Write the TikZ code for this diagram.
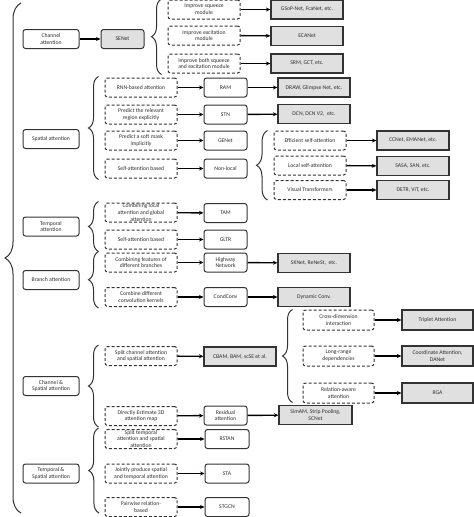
\documentclass[tikz,border=0pt]{standalone}
\usepackage{fontspec}
\setmainfont{Carlito}
\usepackage{tikz}
\usetikzlibrary{arrows.meta,calc,decorations.pathreplacing}

\definecolor{txtgray}{HTML}{2E2E2E}
\definecolor{boxgray}{HTML}{E0E0E0}
\definecolor{edgegray}{HTML}{333333}

\begin{document}
\begin{tikzpicture}[
  x=1pt, y=-1pt,
  font=\fontsize{5.7}{6.9}\selectfont, text=txtgray,
  cat/.style={draw=edgegray, line width=1pt, rounded corners=2.5pt, align=center,
    inner sep=0.5pt, minimum width=56pt, minimum height=19pt},
  sub/.style={draw=edgegray, dash pattern=on 3pt off 2pt, line width=1pt,
    rounded corners=2.5pt, align=center,
    inner sep=0.5pt, minimum width=72pt, minimum height=19pt},
  meth/.style={draw=edgegray, line width=1pt, rounded corners=2.5pt, align=center,
    inner sep=0.5pt, minimum width=43pt, minimum height=19pt},
  res/.style={draw=edgegray, fill=boxgray, line width=1.2pt, align=center,
    inner sep=0.5pt, minimum width=72pt, minimum height=19pt},
  arr/.style={-{Stealth[length=4.5pt,width=4pt]}, line width=1.4pt, black},
  brc/.style={draw=edgegray, line width=1pt, decorate,
    decoration={brace, amplitude=#1}},
  brc/.default=10pt
]
\useasboundingbox (0,0) rectangle (474,517);

\draw[brc=16pt] (21,513) -- (21,3);

\node[cat] (cha) at (51,39) {Channel\\attention};
\node[meth, fill=boxgray] (senet) at (122.5,39) {SENet};
\draw[arr] (cha) -- (senet);

\node[sub] (sq) at (204,9.5) {Improve squeeze\\module};
\node[sub] (ex) at (204,35.5) {Improve excitation\\module};
\node[sub] (bo) at (204,63.5) {Improve both squeeze\\and excitation module};
\draw[brc] ($(bo.south west)+(-6,1)$) -- ($(sq.north west)+(-6,-0.5)$);
\node[res] (gsop) at (307,9.5) {GSoP-Net, FcaNet, etc.};
\node[res] (eca) at (307,36) {ECANet};
\node[res] (srm) at (307,63.5) {SRM, GCT, etc.};
\draw[arr] (sq) -- (gsop);
\draw[arr] (ex) -- (eca);
\draw[arr] (bo) -- (srm);

\node[cat] (spa) at (51,139) {Spatial attention};
\node[sub] (rnn) at (141,87.5) {RNN-based attention};
\node[sub] (prr) at (141,114.5) {Predict the relevant\\region explicitly};
\node[sub] (psm) at (141,140.5) {Predict a soft mask\\implicitly};
\node[sub] (sab) at (141,168.5) {Self-attention based};
\draw[brc] ($(sab.south west)+(-6,1)$) -- ($(rnn.north west)+(-6,-1)$);
\node[meth] (ram) at (225.5,87.5) {RAM};
\node[meth] (stn) at (225.5,114.5) {STN};
\node[meth] (genet) at (225.5,140.5) {GENet};
\node[meth] (nonl) at (225.5,168.5) {Non-local};
\draw[arr] (rnn) -- (ram);
\draw[arr] (prr) -- (stn);
\draw[arr] (psm) -- (genet);
\draw[arr] (sab) -- (nonl);
\node[res] (drw) at (314,87.5) {DRAW, Glimpse Net, etc.};
\node[res] (dcn) at (314,114) {DCN, DCN V2,~ etc.};
\draw[arr] (ram) -- (drw);
\draw[arr] (stn) -- (dcn);

\node[sub] (eff) at (310,140.5) {Efficient self-attention};
\node[sub] (loc) at (310,165.5) {Local self-attention};
\node[sub] (vis) at (310,190) {Visual Transformers};
\draw[brc=11pt] ($(vis.south west)+(-6,0)$) -- ($(eff.north west)+(-6,0)$);
\node[res] (ccn) at (413,140.5) {CCNet, EMANet, etc.};
\node[res] (sasa) at (413,166) {SASA, SAN, etc.};
\node[res] (detr) at (413,190) {DETR, ViT, etc.};
\draw[arr] (eff) -- (ccn);
\draw[arr] (loc) -- (sasa);
\draw[arr] (vis) -- (detr);

\node[cat] (tem) at (51,226.5) {Temporal\\attention};
\node[sub] (clg) at (141,212.5) {Combining local\\attention and global\\attention};
\node[sub] (tsab) at (141,239.5) {Self-attention based};
\draw[brc] ($(tsab.south west)+(-6,2)$) -- ($(clg.north west)+(-6,-1)$);
\node[meth] (tam) at (225.5,213) {TAM};
\node[meth] (gltr) at (225.5,239.5) {GLTR};
\draw[arr] (clg) -- (tam);
\draw[arr] (tsab) -- (gltr);

\node[cat] (bra) at (51,280) {Branch attention};
\node[sub] (cfb) at (141,262.5) {Combining features of\\different branches};
\node[sub] (cdk) at (141,297) {Combine different\\convolution kernels};
\draw[brc] ($(cdk.south west)+(-6,1)$) -- ($(cfb.north west)+(-6,-1)$);
\node[meth] (hwy) at (225.5,262.5) {Highway\\Network};
\node[meth] (cond) at (225.5,297) {CondConv};
\draw[arr] (cfb) -- (hwy);
\draw[arr] (cdk) -- (cond);
\node[res] (skn) at (314,263) {SKNet, ReNeSt,~ etc.};
\node[res] (dyn) at (314,297) {Dynamic Conv.};
\draw[arr] (hwy) -- (skn);
\draw[arr] (cond) -- (dyn);

\node[cat] (csp) at (51,386) {Channel \&\\Spatial attention};
\node[sub] (scs) at (141,356) {Split channel attention\\and spatial attention};
\node[sub] (d3d) at (141,416) {Directly Estimate 3D\\attention map};
\draw[brc] ($(d3d.south west)+(-6,1)$) -- ($(scs.north west)+(-6,-1)$);
\node[res] (cbam) at (240,356.5) {CBAM, BAM, scSE et al.};
\node[meth] (resa) at (225.5,415.5) {Residual\\attention};
\draw[arr] (scs) -- (cbam);
\draw[arr] (d3d) -- (resa);
\node[res, minimum width=73pt] (sim) at (315.5,415) {SimAM, Strip Pooling,\\SCNet};
\draw[arr] (resa) -- (sim);

\node[sub, minimum width=71pt, minimum height=20pt] (cdi) at (338.5,320) {Cross-dimension\\interaction};
\node[sub, minimum width=71pt, minimum height=20pt] (lrd) at (338.5,356) {Long-range\\dependencies};
\node[sub, minimum width=71pt, minimum height=20pt] (raa) at (338.5,393) {Relation-aware\\attention};
\draw[brc] ($(raa.south west)+(-10,-1)$) -- ($(cdi.north west)+(-10,0)$);
\node[res, minimum width=71pt, minimum height=20pt] (trip) at (437.5,320) {Triplet Attention};
\node[res, minimum width=71pt, minimum height=20pt] (coa) at (437.5,356) {Coordinate Attention,\\DANet};
\node[res, minimum width=71pt, minimum height=20pt] (rga) at (437.5,393) {RGA};
\draw[arr] (cdi) -- (trip);
\draw[arr] (lrd) -- (coa);
\draw[arr] (raa) -- (rga);

\node[cat] (tsp) at (51,473.5) {Temporal \&\\Spatial attention};
\node[sub] (sts) at (141,439) {Split temporal\\attention and spatial\\attention};
\node[sub] (jps) at (141,473.5) {Jointly produce spatial\\and temporal attention};
\node[sub] (prb) at (141,507) {Pairwise relation-\\based};
\draw[brc] (99,513) -- ($(sts.north west)+(-6,-1)$);
\node[meth, minimum width=44pt] (rstan) at (227,439) {RSTAN};
\node[meth, minimum width=44pt] (sta) at (227,473.5) {STA};
\node[meth, minimum width=44pt] (stg) at (227,507) {STGCN};
\draw[arr] (sts) -- (rstan);
\draw[arr] (jps) -- (sta);
\draw[arr] (prb) -- (stg);
\end{tikzpicture}
\end{document}
